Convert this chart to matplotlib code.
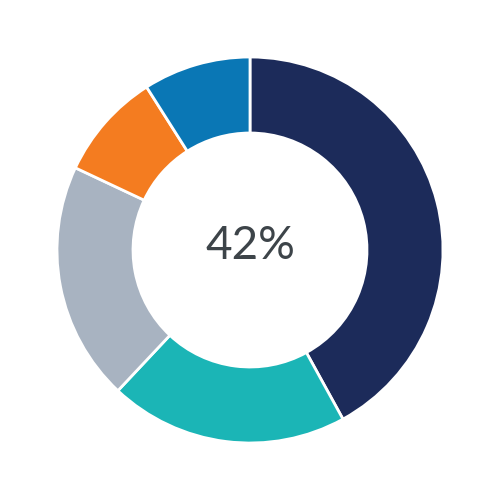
import matplotlib.pyplot as plt

shares = [42, 20, 20, 9, 9]
colors = ["#1c2b5a", "#1bb5b6", "#a8b3c1", "#f47c20", "#0a77b5"]
center_label = "42%"

fig = plt.figure(figsize=(5, 5), dpi=100)
ax = fig.add_axes([0, 0, 1, 1])

ax.pie(shares, colors=colors, startangle=90, counterclock=False,
       radius=193, center=(0, 0),
       wedgeprops=dict(width=76, edgecolor="white", linewidth=2))

ax.text(0, 4, center_label, ha="center", va="center",
        fontsize=33, color="#3d4449", family="Lato", fontweight="normal")

ax.set_xlim(-250, 250)
ax.set_ylim(-250, 250)
ax.set_aspect("equal")
ax.axis("off")

plt.savefig("out.png")
plt.close()
